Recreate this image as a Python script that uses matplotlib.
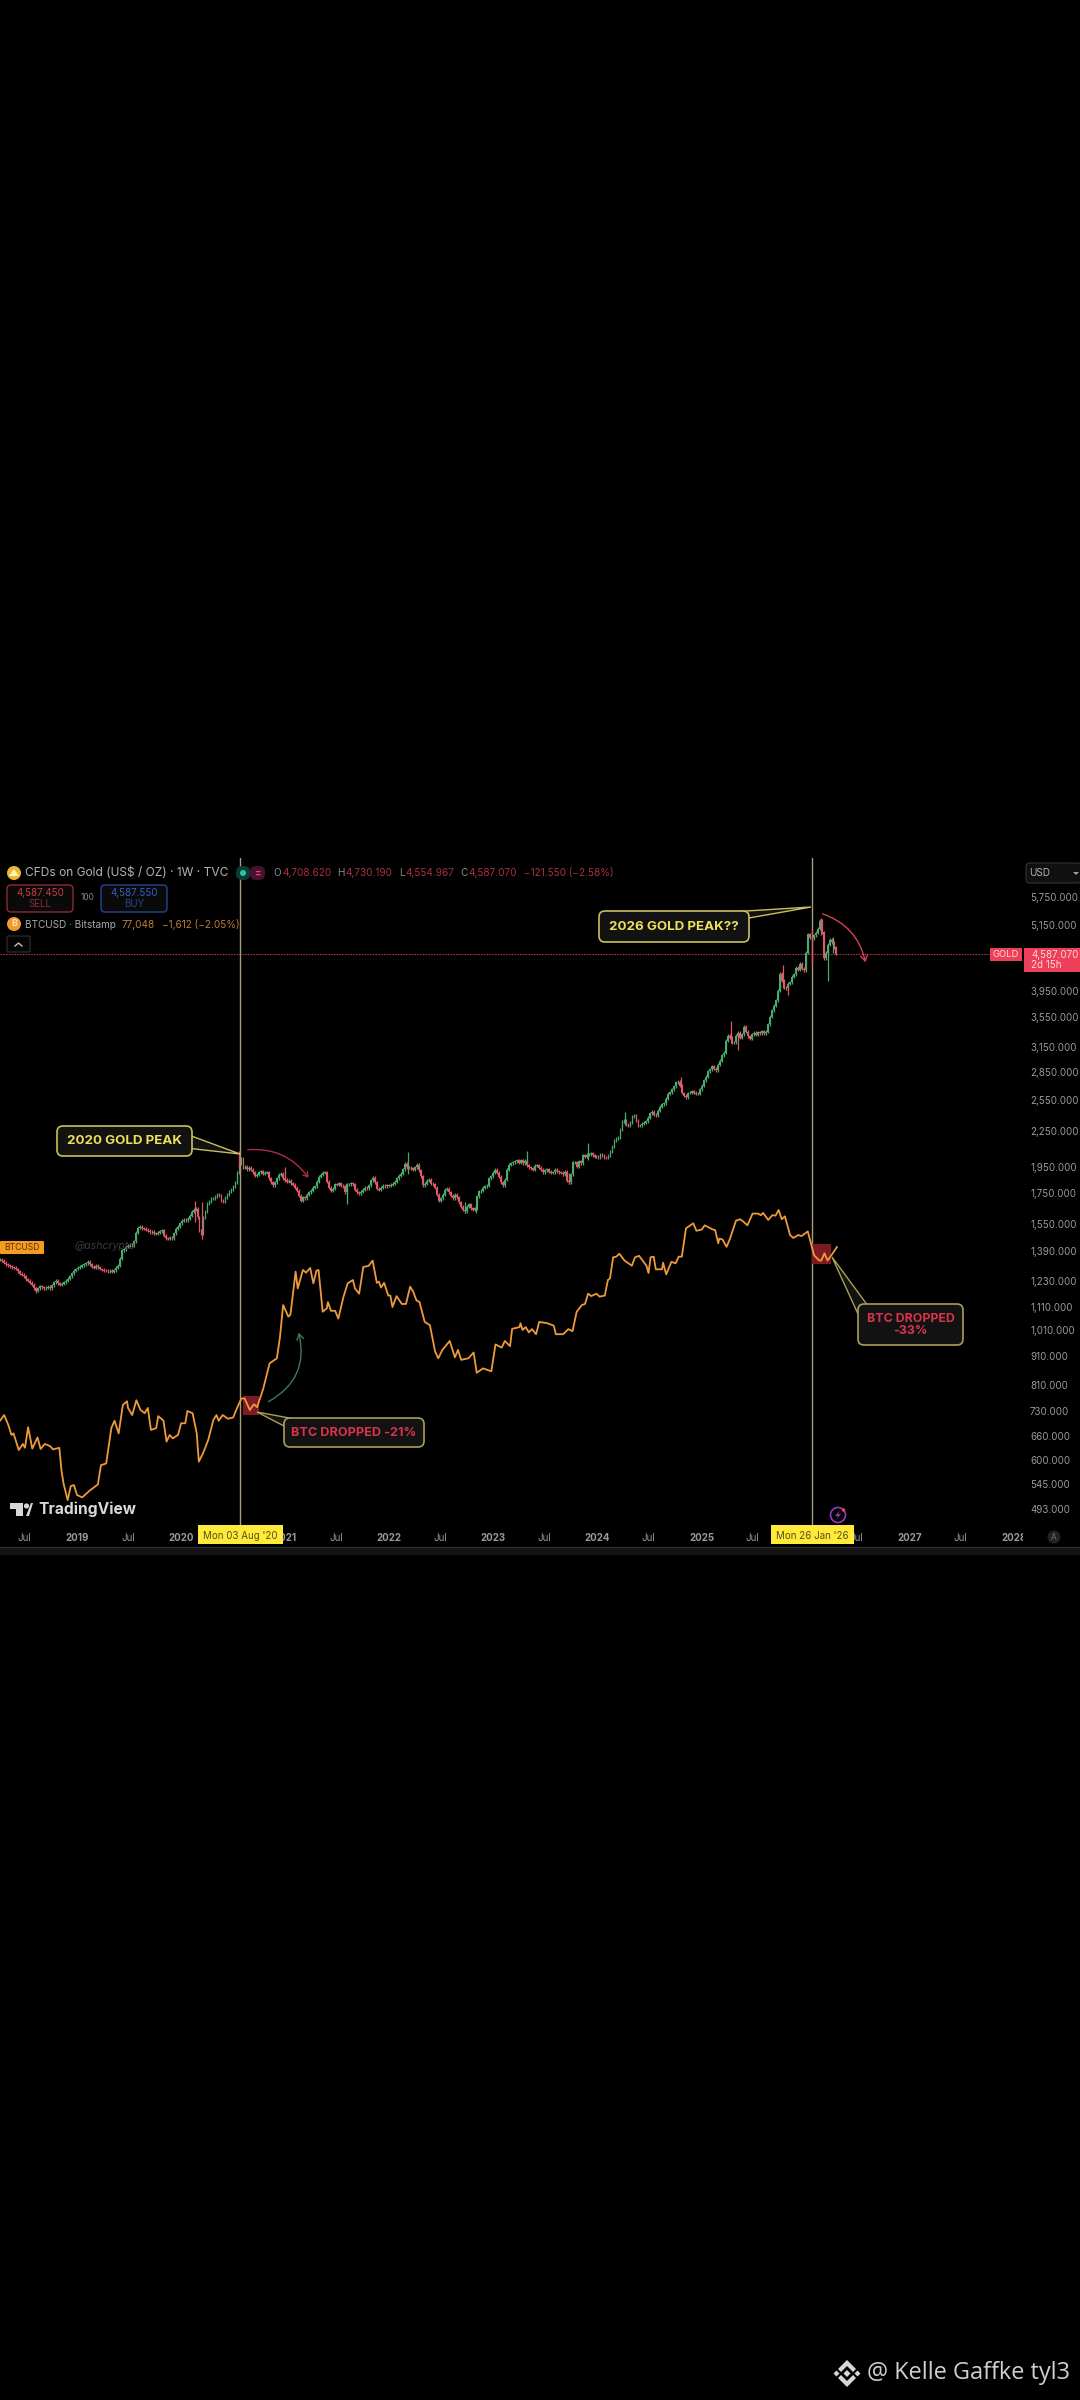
import numpy as np
import matplotlib
matplotlib.use("Agg")
import matplotlib.pyplot as plt
from matplotlib.patches import Rectangle, FancyBboxPatch, Polygon, Circle, FancyArrowPatch
from matplotlib.transforms import Bbox

plt.rcParams['font.family'] = ['Inter', 'DejaVu Sans']

# weekly gold closes, first one is around 2018.26
gold_start = 2018.26
gold_close = [
    1340, 1335, 1325, 1318, 1312, 1306, 1302, 1298, 1292, 1280, 1268, 1262, 1255, 1240, 1232, 1222, 1212,
    1195, 1185, 1195, 1205, 1200, 1196, 1198, 1202, 1197, 1210, 1225, 1232, 1220, 1212, 1218, 1224, 1232,
    1242, 1255, 1270, 1282, 1292, 1298, 1305, 1312, 1316, 1322, 1330, 1318, 1303, 1298, 1308, 1300, 1292,
    1288, 1284, 1282, 1280, 1283, 1278, 1285, 1298, 1308, 1345, 1392, 1400, 1412, 1418, 1425, 1420, 1445,
    1495, 1525, 1530, 1522, 1518, 1512, 1507, 1498, 1500, 1490, 1488, 1495, 1505, 1510, 1478, 1463, 1460,
    1466, 1462, 1490, 1518, 1530, 1552, 1568, 1575, 1570, 1582, 1600, 1625, 1640, 1645, 1590, 1510, 1490,
    1590, 1625, 1680, 1695, 1712, 1718, 1730, 1742, 1735, 1700, 1692, 1725, 1745, 1762, 1780, 1800, 1830,
    1900, 1975, 2010, 1945, 1950, 1930, 1940, 1925, 1905, 1880, 1885, 1905, 1915, 1895, 1900, 1905, 1860,
    1830, 1810, 1830, 1860, 1885, 1895, 1860, 1850, 1835, 1840, 1825, 1812, 1790, 1770, 1735, 1700, 1725,
    1718, 1740, 1760, 1770, 1790, 1800, 1835, 1870, 1885, 1900, 1905, 1835, 1790, 1770, 1785, 1815, 1812,
    1822, 1805, 1800, 1760, 1815, 1815, 1825, 1815, 1775, 1760, 1750, 1762, 1775, 1790, 1788, 1810, 1845,
    1865, 1830, 1785, 1775, 1790, 1805, 1800, 1810, 1806, 1812, 1820, 1835, 1860, 1880, 1895, 1930, 1970,
    1945, 1940, 1935, 1925, 1945, 1965, 1920, 1875, 1810, 1820, 1840, 1850, 1820, 1815, 1790, 1740, 1700,
    1715, 1740, 1775, 1785, 1760, 1735, 1715, 1740, 1725, 1690, 1660, 1640, 1630, 1660, 1675, 1650, 1640,
    1650, 1730, 1765, 1770, 1790, 1800, 1805, 1860, 1875, 1900, 1925, 1900, 1870, 1830, 1810, 1850, 1925,
    1965, 1975, 1985, 1990, 2000, 1980, 2000, 1975, 1995, 1960, 1945, 1935, 1925, 1955, 1960, 1940, 1925,
    1905, 1920, 1930, 1910, 1900, 1905, 1925, 1915, 1905, 1900, 1890, 1910, 1840, 1830, 1890, 1985, 1985,
    1950, 1990, 1975, 2040, 2030, 2045, 2050, 2055, 2040, 2030, 2030, 2025, 2045, 2035, 2025, 2020, 2035,
    2075, 2110, 2165, 2180, 2195, 2265, 2335, 2345, 2310, 2295, 2330, 2385, 2390, 2345, 2300, 2300, 2315,
    2325, 2340, 2370, 2415, 2430, 2400, 2395, 2440, 2480, 2505, 2515, 2560, 2610, 2630, 2660, 2690, 2735,
    2740, 2700, 2620, 2590, 2575, 2620, 2625, 2640, 2625, 2610, 2610, 2660, 2700, 2760, 2795, 2860, 2880,
    2915, 2890, 2870, 2935, 2985, 3050, 3080, 3230, 3300, 3270, 3210, 3215, 3300, 3340, 3270, 3320, 3420,
    3350, 3290, 3260, 3320, 3340, 3310, 3345, 3330, 3360, 3330, 3350, 3450, 3560, 3650, 3720, 3800, 3950,
    4230, 4110, 4000, 3990, 4060, 4090, 4180, 4220, 4330, 4300, 4400, 4320, 4290, 4600, 4960, 4890, 4880,
    4940, 4990, 5070, 5230, 5000, 4500, 4600, 4750, 4850, 4800, 4709, 4587,
]

# the few wicks long enough to see
wick_years = [2018.61, 2020.13, 2020.20, 2020.56, 2021.00, 2021.59, 2022.18, 2022.73, 2022.83, 2023.32,
              2023.73, 2023.91, 2024.26, 2024.80, 2025.28, 2025.35, 2025.78, 2025.83, 2026.06, 2026.15,
              2026.21, 2026.26]
wick_low = [1172, 1560, 1455, 1930, 1830, 1680, 1890, 1615, 1620, 1960,
            1821, 2000, 2300, 2690, 3200, 3110, 4000, 3880, 4385, 4950,
            4110, 4600]
wick_high = [1200, 1700, 1690, 2075, 1945, 1825, 2070, 1690, 1680, 2075,
             1900, 2145, 2430, 2790, 3500, 3350, 4380, 4050, 5035, 5300,
             4700, 4900]
wick_colors = ['r', 'r', 'r', 'r', 'r', 'g', 'g', 'g', 'g', 'g',
               'r', 'g', 'g', 'r', 'r', 'r', 'r', 'r', 'r', 'r',
               'g', 'g']

btc_years = [2018.26, 2018.30, 2018.34, 2018.37, 2018.39, 2018.44, 2018.48, 2018.50, 2018.53, 2018.57,
             2018.62, 2018.65, 2018.69, 2018.74, 2018.77, 2018.83, 2018.85, 2018.87, 2018.91, 2018.94,
             2018.97, 2019.00, 2019.05, 2019.12, 2019.20, 2019.23, 2019.28, 2019.33, 2019.36, 2019.40,
             2019.44, 2019.48, 2019.49, 2019.53, 2019.57, 2019.61, 2019.65, 2019.68, 2019.71, 2019.76,
             2019.78, 2019.83, 2019.86, 2019.89, 2019.92, 2019.97, 2020.00, 2020.04, 2020.06, 2020.11,
             2020.15, 2020.17, 2020.21, 2020.26, 2020.31, 2020.34, 2020.36, 2020.40, 2020.45, 2020.50,
             2020.55, 2020.58, 2020.61, 2020.66, 2020.70, 2020.73, 2020.79, 2020.85, 2020.92, 2020.95,
             2020.98, 2021.03, 2021.05, 2021.10, 2021.12, 2021.17, 2021.20, 2021.24, 2021.27, 2021.30,
             2021.32, 2021.36, 2021.40, 2021.41, 2021.44, 2021.48, 2021.51, 2021.56, 2021.60, 2021.65,
             2021.67, 2021.71, 2021.75, 2021.80, 2021.84, 2021.88, 2021.90, 2021.92, 2021.95, 2021.99,
             2022.01, 2022.03, 2022.07, 2022.12, 2022.16, 2022.20, 2022.23, 2022.26, 2022.29, 2022.34,
             2022.39, 2022.44, 2022.47, 2022.51, 2022.58, 2022.63, 2022.66, 2022.69, 2022.76, 2022.81,
             2022.84, 2022.90, 2022.98, 2023.02, 2023.08, 2023.11, 2023.16, 2023.18, 2023.25, 2023.26,
             2023.28, 2023.31, 2023.34, 2023.37, 2023.41, 2023.44, 2023.52, 2023.58, 2023.60, 2023.67,
             2023.72, 2023.76, 2023.80, 2023.85, 2023.88, 2023.91, 2023.94, 2023.99, 2024.02, 2024.07,
             2024.10, 2024.12, 2024.15, 2024.18, 2024.21, 2024.26, 2024.33, 2024.36, 2024.40, 2024.47,
             2024.49, 2024.51, 2024.54, 2024.56, 2024.62, 2024.63, 2024.66, 2024.71, 2024.75, 2024.78,
             2024.81, 2024.85, 2024.92, 2024.95, 2025.00, 2025.03, 2025.11, 2025.13, 2025.16, 2025.17,
             2025.20, 2025.24, 2025.27, 2025.33, 2025.37, 2025.40, 2025.44, 2025.49, 2025.54, 2025.57,
             2025.59, 2025.64, 2025.68, 2025.71, 2025.74, 2025.77, 2025.80, 2025.85, 2025.88, 2025.93,
             2025.96, 2026.02, 2026.05, 2026.08, 2026.13, 2026.15, 2026.18, 2026.21, 2026.26, 2026.30]
btc_price = [8780, 9430, 8330, 7350, 7500, 6090, 6570, 6260, 8100, 6200,
             7130, 6170, 6570, 6400, 6140, 6260, 4740, 4010, 3260, 3880,
             3930, 3470, 3370, 3660, 3960, 5040, 5150, 8030, 8780, 7500,
             10700, 11200, 10300, 9430, 11350, 10050, 9650, 10300, 7830, 8000,
             9300, 8800, 6770, 7350, 7050, 7350, 8510, 8510, 9920, 9650,
             7500, 5270, 5840, 6900, 8880, 9430, 8780, 9430, 9000, 9150,
             10700, 11600, 11600, 10050, 10800, 10400, 13180, 18000, 19170, 25120,
             37300, 32260, 33040, 56600, 45900, 57800, 55900, 59300, 48930, 57300,
             57800, 34300, 35800, 38700, 34700, 34700, 31500, 41400, 48930, 51000,
             45900, 43000, 60000, 60800, 65000, 49200, 50000, 46400, 49200, 42000,
             42000, 36400, 41700, 37800, 37800, 46900, 44000, 39600, 38700, 30200,
             29000, 20840, 19170, 21270, 23800, 19400, 21270, 18800, 19170, 20600,
             16000, 16900, 16300, 22800, 21900, 23800, 22300, 27700, 28300, 29700,
             27300, 28300, 26500, 27600, 25900, 30200, 29700, 28800, 25900, 25900,
             27600, 26900, 34300, 37300, 37800, 43000, 41700, 43000, 41400, 42000,
             51000, 52000, 67700, 68280, 70800, 65000, 61000, 67700, 69000, 61000,
             55600, 67700, 68280, 58300, 58300, 63300, 54700, 64000, 62800, 68280,
             68280, 97300, 103600, 94400, 95700, 101000, 95700, 95280, 80660, 85500,
             84700, 77200, 84700, 107000, 109000, 106000, 101000, 117000, 117000, 114700,
             118000, 108000, 114700, 114000, 122350, 109000, 113000, 89500, 86300, 89500,
             88300, 93600, 80660, 69500, 65100, 65100, 71200, 65100, 71200, 77048]

peak_years = [2020.566, 2026.06]
peak_labels = ["Mon 03 Aug '20", "Mon 26 Jan '26"]
drop_years = [(2020.59, 2020.75), (2026.06, 2026.24)]
drop_prices = [(9435, 11970), (62300, 80000)]

price_ticks = [5750, 5150, 3950, 3550, 3150, 2850, 2550, 2250, 1950, 1750, 1550, 1390, 1230, 1110, 1010,
               910, 810, 730, 660, 600, 545, 493]
last_price = 4587.07

time_ticks = [2018.49, 2019, 2019.49, 2020, 2020.49, 2021, 2021.49, 2022, 2022.49, 2023, 2023.49, 2024,
              2024.49, 2025, 2025.49, 2026, 2026.49, 2027, 2027.49, 2028]
time_labels = ["Jul", "2019", "Jul", "2020", "Jul", "2021", "Jul", "2022", "Jul", "2023", "Jul", "2024",
               "Jul", "2025", "Jul", "2026", "Jul", "2027", "Jul", "2028"]

W, H = 1080, 2400
GREEN = '#4bab6c'
RED = '#e2586a'
ORANGE = '#ee9a3a'
GREY = '#9a9a9a'

fig = plt.figure(figsize=(W / 100, H / 100), dpi=100, facecolor='black')

# chart axes run from px 0..1022 across and 858..1525 down
ax = fig.add_axes([0, 1 - 1525 / H, 1022 / W, (1525 - 858) / H], facecolor='black')
ax.set_yscale('log')
ax.set_xlim(2018.26, 2028.078)
ax.set_ylim(462, 6734)
for s in ax.spines.values():
    s.set_visible(False)

# btc goes on its own hidden log scale, like the overlay in tradingview
ax2 = ax.twinx()
ax2.set_yscale('log')
ax2.set_ylim(2386, 9.96e6)
ax2.yaxis.set_visible(False)
ax2.patch.set_visible(False)
for s in ax2.spines.values():
    s.set_visible(False)

# twinx puts the ticks of ax back on the left, so this has to come after it
ax.yaxis.tick_right()
ax.set_yticks(price_ticks)
ax.set_yticklabels(["{:,.3f}".format(p) for p in price_ticks], color=GREY, fontsize=7)
ax.minorticks_off()
ax.tick_params(axis='y', length=0, pad=5.8, which='both')

ax.set_xticks(time_ticks)
ax.set_xticklabels(time_labels, color=GREY, fontsize=7)
ax.tick_params(axis='x', length=0, pad=5.5)
for t, name in zip(ax.get_xticklabels(), time_labels):
    if name != "Jul":
        t.set_fontweight('bold')
    t.set_clip_on(True)
    t.set_clip_box(Bbox([[0, 0], [1023, H]]))

# gold candles
gold_close = np.array(gold_close, dtype=float)
gold_open = np.concatenate(([gold_close[0]], gold_close[:-1]))
gold_years = gold_start + np.arange(len(gold_close)) * 7 / 365.25
colors = [GREEN if c >= o else RED for o, c in zip(gold_open, gold_close)]
lo = np.minimum(gold_open, gold_close)
hi = np.maximum(gold_open, gold_close)
ax.bar(gold_years, hi - lo, bottom=lo, width=0.017, color=colors, linewidth=0, zorder=3)
ax.vlines(gold_years, lo * 0.994, hi * 1.006, colors=colors, linewidth=0.9, zorder=3)
ax.vlines(wick_years, wick_low, wick_high, colors=[GREEN if w == 'g' else RED for w in wick_colors],
          linewidth=0.9, zorder=3)

ax.axhline(last_price, color='#a8354a', linewidth=0.8, linestyle=(0, (1.5, 1)), zorder=2)
for yr in peak_years:
    ax.axvline(yr, color='#ab9d74', linewidth=1.0, zorder=2)

for (x0, x1), (p0, p1) in zip(drop_years, drop_prices):
    ax2.add_patch(Rectangle((x0, p0), x1 - x0, p1 - p0, facecolor='#7d1a24', edgecolor='none', zorder=2))
ax2.plot(btc_years, btc_price, color=ORANGE, linewidth=1.3, zorder=5, solid_joinstyle='round')

# overlay in pixel coordinates for the tradingview furniture
ov = fig.add_axes([0, 0, 1, 1], facecolor='none')
ov.set_xlim(0, W)
ov.set_ylim(H, 0)
ov.axis('off')


def box(x0, y0, x1, y1, fc, ec='none', lw=1.0, rad=0, z=6):
    if rad:
        p = FancyBboxPatch((x0 + rad, y0 + rad), x1 - x0 - 2 * rad, y1 - y0 - 2 * rad,
                           boxstyle="round,pad=%f,rounding_size=%f" % (rad, rad),
                           facecolor=fc, edgecolor=ec, linewidth=lw, zorder=z)
    else:
        p = Rectangle((x0, y0), x1 - x0, y1 - y0, facecolor=fc, edgecolor=ec, linewidth=lw, zorder=z)
    ov.add_patch(p)


def txt(x, y, s, color=GREY, size=7, ha='left', weight='normal', z=8, **kw):
    ov.text(x, y, s, color=color, fontsize=size, ha=ha, va='center', fontweight=weight, zorder=z, **kw)


# bottom strip
box(0, 1547, W, 1555, '#141414')
ov.plot([0, W], [1547, 1547], color='#2c2c2c', linewidth=1, zorder=6)

# date labels on the crosshair lines
box(198, 1525, 283, 1544, '#ffe93b')
txt(240.5, 1536, peak_labels[0], color='#55530f', size=7, ha='center')
box(771, 1525, 854, 1544, '#ffe93b')
txt(812.5, 1536, peak_labels[1], color='#55530f', size=7, ha='center')

# header row, gold
ov.add_patch(Circle((14, 873), 7, facecolor='#e8b830', zorder=7))
ov.add_patch(Polygon([[9, 876], [14, 869], [19, 876]], facecolor='#fff0c0', zorder=8))
txt(25, 873, "CFDs on Gold (US$ / OZ) · 1W · TVC", color='#b4b4b4', size=8.6)
box(236, 866, 250, 880, '#0d3b35', rad=6)
ov.add_patch(Circle((243, 873), 3, facecolor='#2ec4a0', zorder=8))
box(250, 866, 265, 880, '#4a1030', rad=6)
txt(257.5, 873, "=", color='#e8407a', size=7, ha='center', weight='bold')
DRED = '#a8323f'
txt(273, 873, "O", color='#8a8a8a', size=7.2)
txt(282, 873, "4,708.620", color=DRED, size=7.2)
txt(337, 873, "H", color='#8a8a8a', size=7.2)
txt(345, 873, "4,730.190", color=DRED, size=7.2)
txt(399, 873, "L", color='#8a8a8a', size=7.2)
txt(405, 873, "4,554.967", color=DRED, size=7.2)
txt(460, 873, "C", color='#8a8a8a', size=7.2)
txt(468, 873, "4,587.070", color=DRED, size=7.2)
txt(524, 873, "−121.550 (−2.58%)", color=DRED, size=7.2)

# sell and buy
box(7, 885, 73, 912, '#0a0a0a', ec='#8a2a35', lw=1, rad=4)
txt(40, 893, "4,587.450", color='#c83a48', size=7, ha='center')
txt(40, 904, "SELL", color='#8a2a35', size=7, ha='center')
txt(88, 898, "100", color='#8a8a8a', size=6, ha='center')
box(101, 885, 167, 912, '#0a0a0a', ec='#24468f', lw=1, rad=4)
txt(134, 893, "4,587.550", color='#3560c0', size=7, ha='center')
txt(134, 904, "BUY", color='#24468f', size=7, ha='center')

# header row, btc
ov.add_patch(Circle((14, 924), 7, facecolor='#f29a30', zorder=7))
txt(14, 924, "B", color='#ffe0b0', size=6.5, ha='center', weight='bold')
txt(25, 924.5, "BTCUSD · Bitstamp", color='#a8a8a8', size=7.2)
txt(122, 924.5, "77,048", color='#bd7c38', size=7.2)
txt(162, 924.5, "−1,612 (−2.05%)", color='#bd7c38', size=7.2)
box(7, 936, 30, 952, '#050505', ec='#303030', lw=0.8, rad=1)
ov.plot([15, 18.5, 22], [946, 943, 946], color='#c0c0c0', linewidth=1, zorder=8)

# price axis extras
box(1026, 863, 1082, 883, '#101010', ec='#333333', lw=0.8, rad=4)
txt(1029, 873.5, "USD", color='#b0b0b0', size=7.2)
ov.add_patch(Polygon([[1073, 872], [1079, 872], [1076, 875]], facecolor='#a0a0a0', zorder=8))
box(990, 948, 1022, 961, '#ee3f58')
txt(1006, 954.5, "GOLD", color='#ffd8dc', size=6.8, ha='center')
box(1024, 948, W, 972, '#ee3f58')
txt(1031, 954.5, "4,587.070", color='#ffd8dc', size=7)
txt(1031, 965, "2d 15h", color='#ffd8dc', size=7)

# btc label and watermarks
box(0, 1241, 44, 1254, '#f59a23', rad=1)
txt(22, 1247.5, "BTCUSD", color='#5a3505', size=6.2, ha='center')
txt(75, 1246, "@ashcrypto", color='#3c3c3c', size=7.6, style='italic', z=2)
logo = '#d8d8d8'
ov.add_patch(Polygon([[10, 1503], [23, 1503], [23, 1516], [16, 1516], [16, 1509], [10, 1509]], facecolor=logo, zorder=8))
ov.add_patch(Circle((26.5, 1506), 2.6, facecolor=logo, zorder=8))
ov.add_patch(Polygon([[26, 1516], [31, 1503], [33, 1503], [33, 1503], [29, 1516]], facecolor=logo, zorder=8))
txt(38.5, 1509.5, "TradingView", color=logo, size=11.2, weight='bold')

# bolt and auto badges
ov.add_patch(Circle((838, 1515), 7.5, facecolor='none', edgecolor='#8a3fc0', linewidth=1.2, zorder=8))
ov.add_patch(Polygon([[840, 1510], [835, 1516], [838, 1516], [836, 1520], [841, 1514], [838, 1514]],
                     facecolor='#8a3fc0', zorder=8))
ov.add_patch(Circle((843.5, 1510), 1.8, facecolor='#e84050', zorder=9))
ov.add_patch(Circle((1054, 1537), 6.5, facecolor='#222222', zorder=7))
txt(1054, 1537, "A", color='#707070', size=6, ha='center')

# callouts
EDGE = '#c9bf5e'
DIM_EDGE = '#a89f58'
FILL = '#121212'


def callout(x0, y0, x1, y1, pointer, lines, color, size, edge=EDGE):
    ov.add_patch(Polygon(pointer, closed=True, facecolor=FILL, edgecolor=edge, linewidth=1, zorder=6))
    box(x0, y0, x1, y1, FILL, ec=edge, lw=1.2, rad=6, z=6)
    txt((x0 + x1) / 2, (y0 + y1) / 2, lines, color=color, size=size, ha='center', weight='bold',
        linespacing=1.0, multialignment='center')


callout(57, 1126, 192, 1156, [[186, 1134], [240, 1154], [186, 1148]], "2020 GOLD PEAK", '#efe05a', 9.6)
callout(599, 911, 749, 942, [[738, 911.5], [811, 907], [749, 918]], "2026 GOLD PEAK??", '#efe05a', 9.6)
callout(284, 1418, 424, 1447, [[292, 1418.5], [257, 1412], [284, 1426]], "BTC DROPPED -21%", '#d8344a', 9.1, DIM_EDGE)
callout(858, 1304, 963, 1345, [[867, 1304.5], [832, 1257], [858, 1314]], "BTC DROPPED\n-33%", '#d8344a', 8.9, DIM_EDGE)

# hand drawn arrows
ov.add_patch(FancyArrowPatch((245, 1150), (310, 1180), connectionstyle="arc3,rad=-0.3", arrowstyle='->,head_length=3,head_width=2',
                             color='#a8304c', linewidth=1, zorder=7))
ov.add_patch(FancyArrowPatch((820, 913), (866, 965), connectionstyle="arc3,rad=-0.3", arrowstyle='->,head_length=4,head_width=2.5',
                             color='#d84058', linewidth=1, zorder=7))
ov.add_patch(FancyArrowPatch((266, 1403), (298, 1330), connectionstyle="arc3,rad=0.4", arrowstyle='->,head_length=4,head_width=2.5',
                             color='#3f7a55', linewidth=1, zorder=7))

# binance mark and watermark text
c = '#d6d6d6'
ov.add_patch(Polygon([[847, 2360], [856, 2369], [853, 2372], [847, 2366], [841, 2372], [838, 2369]], facecolor=c, zorder=8))
ov.add_patch(Polygon([[847, 2387], [856, 2378], [853, 2375], [847, 2381], [841, 2375], [838, 2378]], facecolor=c, zorder=8))
for cx, r in [(836.5, 3), (857.5, 3), (847, 3.5)]:
    ov.add_patch(Polygon([[cx, 2373.5 - r], [cx + r, 2373.5], [cx, 2373.5 + r], [cx - r, 2373.5]], facecolor=c, zorder=8))
ov.text(867, 2373, "@ Kelle Gaffke tyl3", color='#cfcfcf', fontsize=16.9, va='center', family=['Open Sans', 'DejaVu Sans'], zorder=8)

fig.savefig("out.png", dpi=100, facecolor='black')
